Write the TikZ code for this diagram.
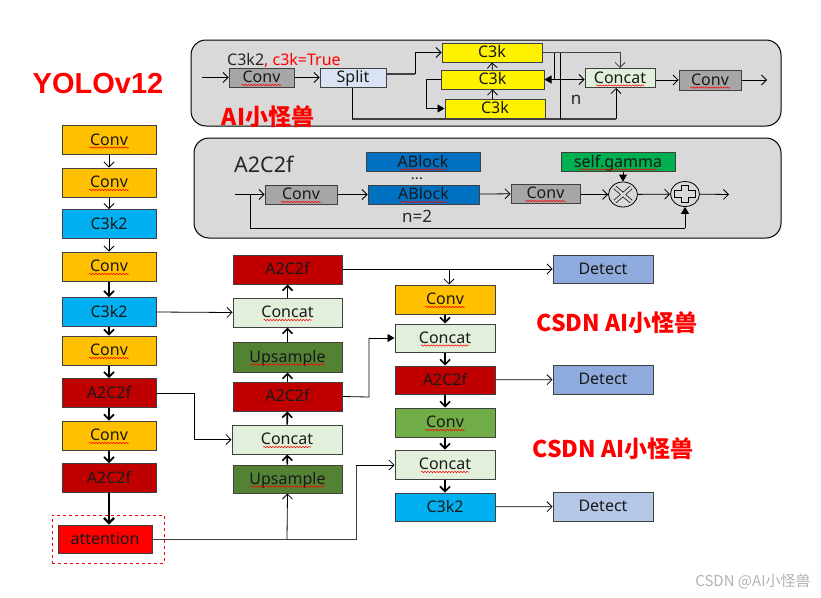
\documentclass[tikz,border=0pt]{standalone}
\usepackage{fontspec}
\setmainfont{Noto Sans}
\newfontfamily\cjk{Noto Sans CJK SC}
\newfontfamily\titlefont{Liberation Sans}
\usetikzlibrary{arrows.meta,shapes.geometric,decorations.pathmorphing}
\definecolor{panelgray}{HTML}{D9D9D9}
\definecolor{boxline}{HTML}{404040}
\definecolor{convorange}{HTML}{FFC000}
\definecolor{cthreeblue}{HTML}{00B0F0}
\definecolor{aredbox}{HTML}{C00000}
\definecolor{concatgreen}{HTML}{E2EFDA}
\definecolor{upgreen}{HTML}{548235}
\definecolor{convgreen}{HTML}{70AD47}
\definecolor{convgray}{HTML}{A6A6A6}
\definecolor{splitblue}{HTML}{DAE3F3}
\definecolor{blockblue}{HTML}{0070C0}
\definecolor{gammagreen}{HTML}{00B050}
\definecolor{detectblue}{HTML}{8FAADC}
\definecolor{detectpale}{HTML}{B4C7E7}
\tikzstyle{box}=[draw=boxline, line width=1pt, inner sep=0pt, font=\fontsize{16}{18}\selectfont,
text height=13pt, text depth=3pt, text=black!90]
\tikzstyle{leftbox}=[box, minimum width=94pt, minimum height=29pt]
\tikzstyle{midbox}=[box, minimum width=109pt, minimum height=29pt]
\tikzstyle{rightbox}=[box, minimum width=100pt, minimum height=29pt]
\tikzstyle{smallbox}=[box, minimum height=19pt]
\tikzstyle{panel}=[draw=black, line width=1pt, fill=panelgray, rounded corners=15pt]
\tikzstyle{flow}=[line width=.8pt, -{Straight Barb[length=5pt,width=10pt]}]
\tikzstyle{flowmid}=[flow, line width=1.6pt]
\tikzstyle{flowbig}=[flow, line width=2.2pt]
\tikzstyle{solid tip}=[line width=.8pt, -{Triangle[length=7pt,width=8pt]}]
\tikzstyle{bar}=[line width=.8pt]
\tikzstyle{opcircle}=[draw=black, line width=.8pt, ellipse, minimum width=29pt, minimum height=25pt, inner sep=0pt]
\tikzstyle{redtitle}=[text=red, font=\cjk\bfseries\fontsize{23}{26}\selectfont, inner sep=0pt]
\tikzstyle{paneltext}=[font=\fontsize{17}{20}\selectfont, inner sep=0pt, text=black!85]
\tikzstyle{spell}=[draw=red, line width=.5pt, decorate, decoration={snake, amplitude=.7pt, segment length=3pt}]

\begin{document}
\begin{tikzpicture}[x=1pt,y=-1pt]
\useasboundingbox (0,0) rectangle (821,597);

% panels
\draw[panel] (191,40) rectangle (781,126);
\draw[panel] (194,138) rectangle (781,238);

% titles
\node[redtitle, font=\titlefont\bfseries\fontsize{29}{32}\selectfont](title)at (98,84){YOLOv12};
\node[redtitle](mark1)at (268,117){AI小怪兽};
\node[redtitle](mark2)at (617,323){CSDN AI小怪兽};
\node[redtitle](mark3)at (613,449){CSDN AI小怪兽};
\node[text=black!30, font=\cjk\fontsize{15}{17}\selectfont, inner sep=0pt](mark4)at (753,581){CSDN @AI小怪兽};

% backbone
\node[leftbox, fill=convorange](conv1)at (109,140){Conv};
\node[leftbox, fill=convorange](conv2)at (109,182.5){Conv};
\node[leftbox, fill=cthreeblue](c3k1)at (109,224){C3k2};
\node[leftbox, fill=convorange](conv3)at (109,266.5){Conv};
\node[leftbox, fill=cthreeblue](c3k2)at (109,312){C3k2};
\node[leftbox, fill=convorange](conv4)at (109,350.5){Conv};
\node[leftbox, fill=aredbox](a2c1)at (109,393){A2C2f};
\node[leftbox, fill=convorange](conv5)at (109,435.5){Conv};
\node[leftbox, fill=aredbox](a2c2)at (109,478){A2C2f};
\node[box, fill=red, minimum width=94pt, minimum height=28pt](attention)at (105,539){attention};
\node[draw=red, dashed, line width=.7pt, minimum width=112pt, minimum height=48pt, inner sep=0pt](attbox)at (108,539){};

% middle column
\node[midbox, fill=aredbox](a2c3)at (287.5,269.5){A2C2f};
\node[midbox, fill=concatgreen](concat1)at (287.5,312.5){Concat};
\node[midbox, fill=upgreen, minimum height=30pt](up1)at (287.5,357){Upsample};
\node[midbox, fill=aredbox](a2c4)at (287.5,396.5){A2C2f};
\node[midbox, fill=concatgreen, minimum width=110pt](concat2)at (287,439.5){Concat};
\node[midbox, fill=upgreen, minimum height=28pt](up2)at (287.5,479){Upsample};

% right column
\node[rightbox, fill=convorange](conv6)at (445,299.5){Conv};
\node[rightbox, fill=concatgreen, minimum height=28pt](concat3)at (445,338){Concat};
\node[rightbox, fill=aredbox, minimum height=28pt](a2c5)at (445,380){A2C2f};
\node[rightbox, fill=convgreen](conv7)at (445,422.5){Conv};
\node[rightbox, fill=concatgreen](concat4)at (445,464.5){Concat};
\node[rightbox, fill=cthreeblue, minimum height=28pt](c3k3)at (445,507){C3k2};

% detect heads
\node[rightbox, fill=detectblue, minimum height=28pt](detect1)at (603,269){Detect};
\node[rightbox, fill=detectblue](detect2)at (603,379.5){Detect};
\node[rightbox, fill=detectpale](detect3)at (603,506.5){Detect};

% C3k2 panel
\node[paneltext, font=\fontsize{16}{18}\selectfont, anchor=west](c3ktext)at (227,60){C3k2\textcolor{red}{, c3k=True}};
\node[paneltext](nlabel)at (576,100){n};
\coordinate (in1) at (202,77.5);
\node[smallbox, fill=convgray, minimum width=65pt](pconv1)at (261.5,77.5){Conv};
\node[smallbox, fill=splitblue, minimum width=66pt](split)at (353,77.5){Split};
\node[smallbox, fill=yellow, minimum width=100pt](pc3k1)at (492,52.5){C3k};
\node[smallbox, fill=yellow, minimum width=103pt](pc3k2)at (492.5,79.5){C3k};
\node[smallbox, fill=yellow, minimum width=100pt](pc3k3)at (495,108.5){C3k};
\node[smallbox, fill=concatgreen, minimum width=70pt](pconcat)at (620,78){Concat};
\node[smallbox, fill=convgray, minimum width=62pt, minimum height=20pt](pconv2)at (710,80){Conv};
\coordinate (out1) at (767,80);
\coordinate (st1) at (415,74);
\coordinate (st2) at (352,119);
\coordinate (st3) at (426,79.5);
\coordinate (st4) at (426,108.5);
\coordinate (st5) at (616,119);
\coordinate (bar1) at (554,52.5);
\coordinate (bar1b) at (554,79.5);
\coordinate (bar2) at (560,52.5);
\coordinate (bar2b) at (560,119);

\draw [flow](in1) -- (pconv1);
\draw [flow](pconv1) -- (split);
\draw [bar, line width=1.4pt, draw=boxline](split.east|-st1) -- (st1);
\draw [flow](st1) |- (pc3k1);
\draw [bar, line width=1.4pt, draw=boxline](st2) -- (st5);
\draw [bar](split.south-|st2) -- (st2);
\draw [flow](st5) -- (st5|-pconcat.south);
\draw [flow, draw=boxline](pc3k1.east) -| (pconcat.north);
\draw [bar](pc3k2.west) -- (st3) -- (st4);
\draw [solid tip](st4) -- (pc3k3.west);
\draw [flow](pc3k3.north-|pc3k2) -- (pc3k2.south);
\draw [flow](pc3k2.north) -- (pc3k1.south);
\draw [bar](bar1) -- (bar1b);
\draw [bar](bar2) -- (bar2b);
\draw [solid tip](bar1b) -- (pc3k2.east);
\draw [flow](pc3k2.east) -- (pconcat.west|-pc3k2);
\draw [flow](pconcat.east|-pconv2) -- (pconv2);
\draw [flow](pconv2) -- (out1);

% A2C2f panel
\node[paneltext, font=\fontsize{21.5}{24}\selectfont, anchor=west](a2ctext)at (234,164){A2C2f};
\node[paneltext, font=\fontsize{15}{15}\selectfont, text height=2pt, text depth=0pt](dots)at (417,178){...};
\node[paneltext](n2label)at (417,216){n=2};
\coordinate (in2) at (235,194.5);
\coordinate (st6) at (250,194.5);
\coordinate (st7) at (250,228);
\coordinate (st8) at (685,228);
\coordinate (out2) at (729,194.5);
\node[smallbox, fill=convgray, minimum width=72pt](qconv1)at (301,194.5){Conv};
\node[smallbox, fill=blockblue, minimum width=114pt](block1)at (423,162){ABlock};
\node[smallbox, fill=blockblue, minimum width=111pt](block2)at (423.5,194.5){ABlock};
\node[smallbox, fill=convgray, minimum width=69pt](qconv2)at (545.5,193.5){Conv};
\node[smallbox, fill=gammagreen, minimum width=114pt](gamma)at (618,162){self.gamma};
\node[opcircle](times)at (623,194.5){};
\node[opcircle](plus)at (685,194){};

\draw [line width=4pt, draw=black](times.center)+(-8,-7) -- +(8,7) +(-8,7) -- +(8,-7);
\draw [line width=2.6pt, draw=panelgray](times.center)+(-8,-7) -- +(8,7) +(-8,7) -- +(8,-7);
\draw [line width=7.6pt, draw=black](plus.center)+(-11,0) -- +(11,0) +(0,-9) -- +(0,9);
\draw [line width=6pt, draw=panelgray](plus.center)+(-10.2,0) -- +(10.2,0) +(0,-8.2) -- +(0,8.2);

\draw [flow](in2) -- (qconv1);
\draw [flow](qconv1) -- (block2);
\draw [flow](block2) -- (qconv2);
\draw [flow](qconv2.east|-times) -- (times);
\draw [flow](times) -- (plus);
\draw [flow](plus) -- (out2);
\draw [solid tip](gamma.south-|times) -- (times);
\draw [bar](st6) -- (st7) -- (st8);
\draw [solid tip](st8) -- (plus);

% backbone links
\draw [flow](conv1) -- (conv2);
\draw [flow](conv2) -- (c3k1);
\draw [flow](c3k1) -- (conv3);
\draw [flowmid](conv3) -- (c3k2);
\draw [flowmid](c3k2) -- (conv4);
\draw [flowmid](conv4) -- (a2c1);
\draw [flowmid](a2c1) -- (conv5);
\draw [flowmid](conv5) -- (a2c2);
\draw [flowbig](a2c2) -- (a2c2|-attention.north);

% neck links
\coordinate (st9) at (194,393);
\coordinate (st10) at (287,539);
\coordinate (st11) at (356,539);
\coordinate (st12) at (356,465);
\coordinate (st13) at (369,397);
\coordinate (st14) at (369,338);
\coordinate (st15) at (449,269);
\draw [flow](c3k2.east) -- (concat1.west);
\draw [bar](a2c1.east) -- (st9);
\draw [flow](st9) |- (concat2.west);
\draw [bar, draw=boxline, line width=1pt](attention.east) -- (st11) -- (st12);
\draw [flow](st12) -- (concat4.west|-st12);
\draw [flow](st10) -- (up2.south);
\draw [flowmid](up2) -- (concat2);
\draw [flowmid](concat2) -- (a2c4);
\draw [flowmid](a2c4) -- (up1);
\draw [flowmid](up1) -- (concat1);
\draw [flowmid](concat1) -- (a2c3);
\draw [bar](a2c4.east) -- (st13) -- (st14);
\draw [solid tip](st14) -- (concat3.west);
\draw [flow](a2c3.east|-detect1) -- (detect1);
\draw [flow](st15) -- (st15|-conv6.north);
\draw [flowmid](conv6) -- (concat3);
\draw [flowmid](concat3) -- (a2c5);
\draw [flowmid](a2c5) -- (conv7);
\draw [flowmid](conv7) -- (concat4);
\draw [flowmid](concat4) -- (c3k3);
\draw [flow](a2c5) -- (detect2);
\draw [flow](c3k3) -- (detect3);

% spelling marks under the words
\foreach \n/\w in {conv1/20,conv2/20,conv3/20,conv4/20,conv5/20,conv6/20,conv7/20,
pconv1/20,pconv2/20,qconv1/20,qconv2/20,concat1/24,concat2/24,concat3/24,concat4/24,
pconcat/24,up1/37,up2/37,block1/23,block2/23,gamma/39}
	\draw [spell]([xshift=-\w pt,yshift=-7.5pt]\n.center) -- ([xshift=\w pt,yshift=-7.5pt]\n.center);
\end{tikzpicture}
\end{document}
